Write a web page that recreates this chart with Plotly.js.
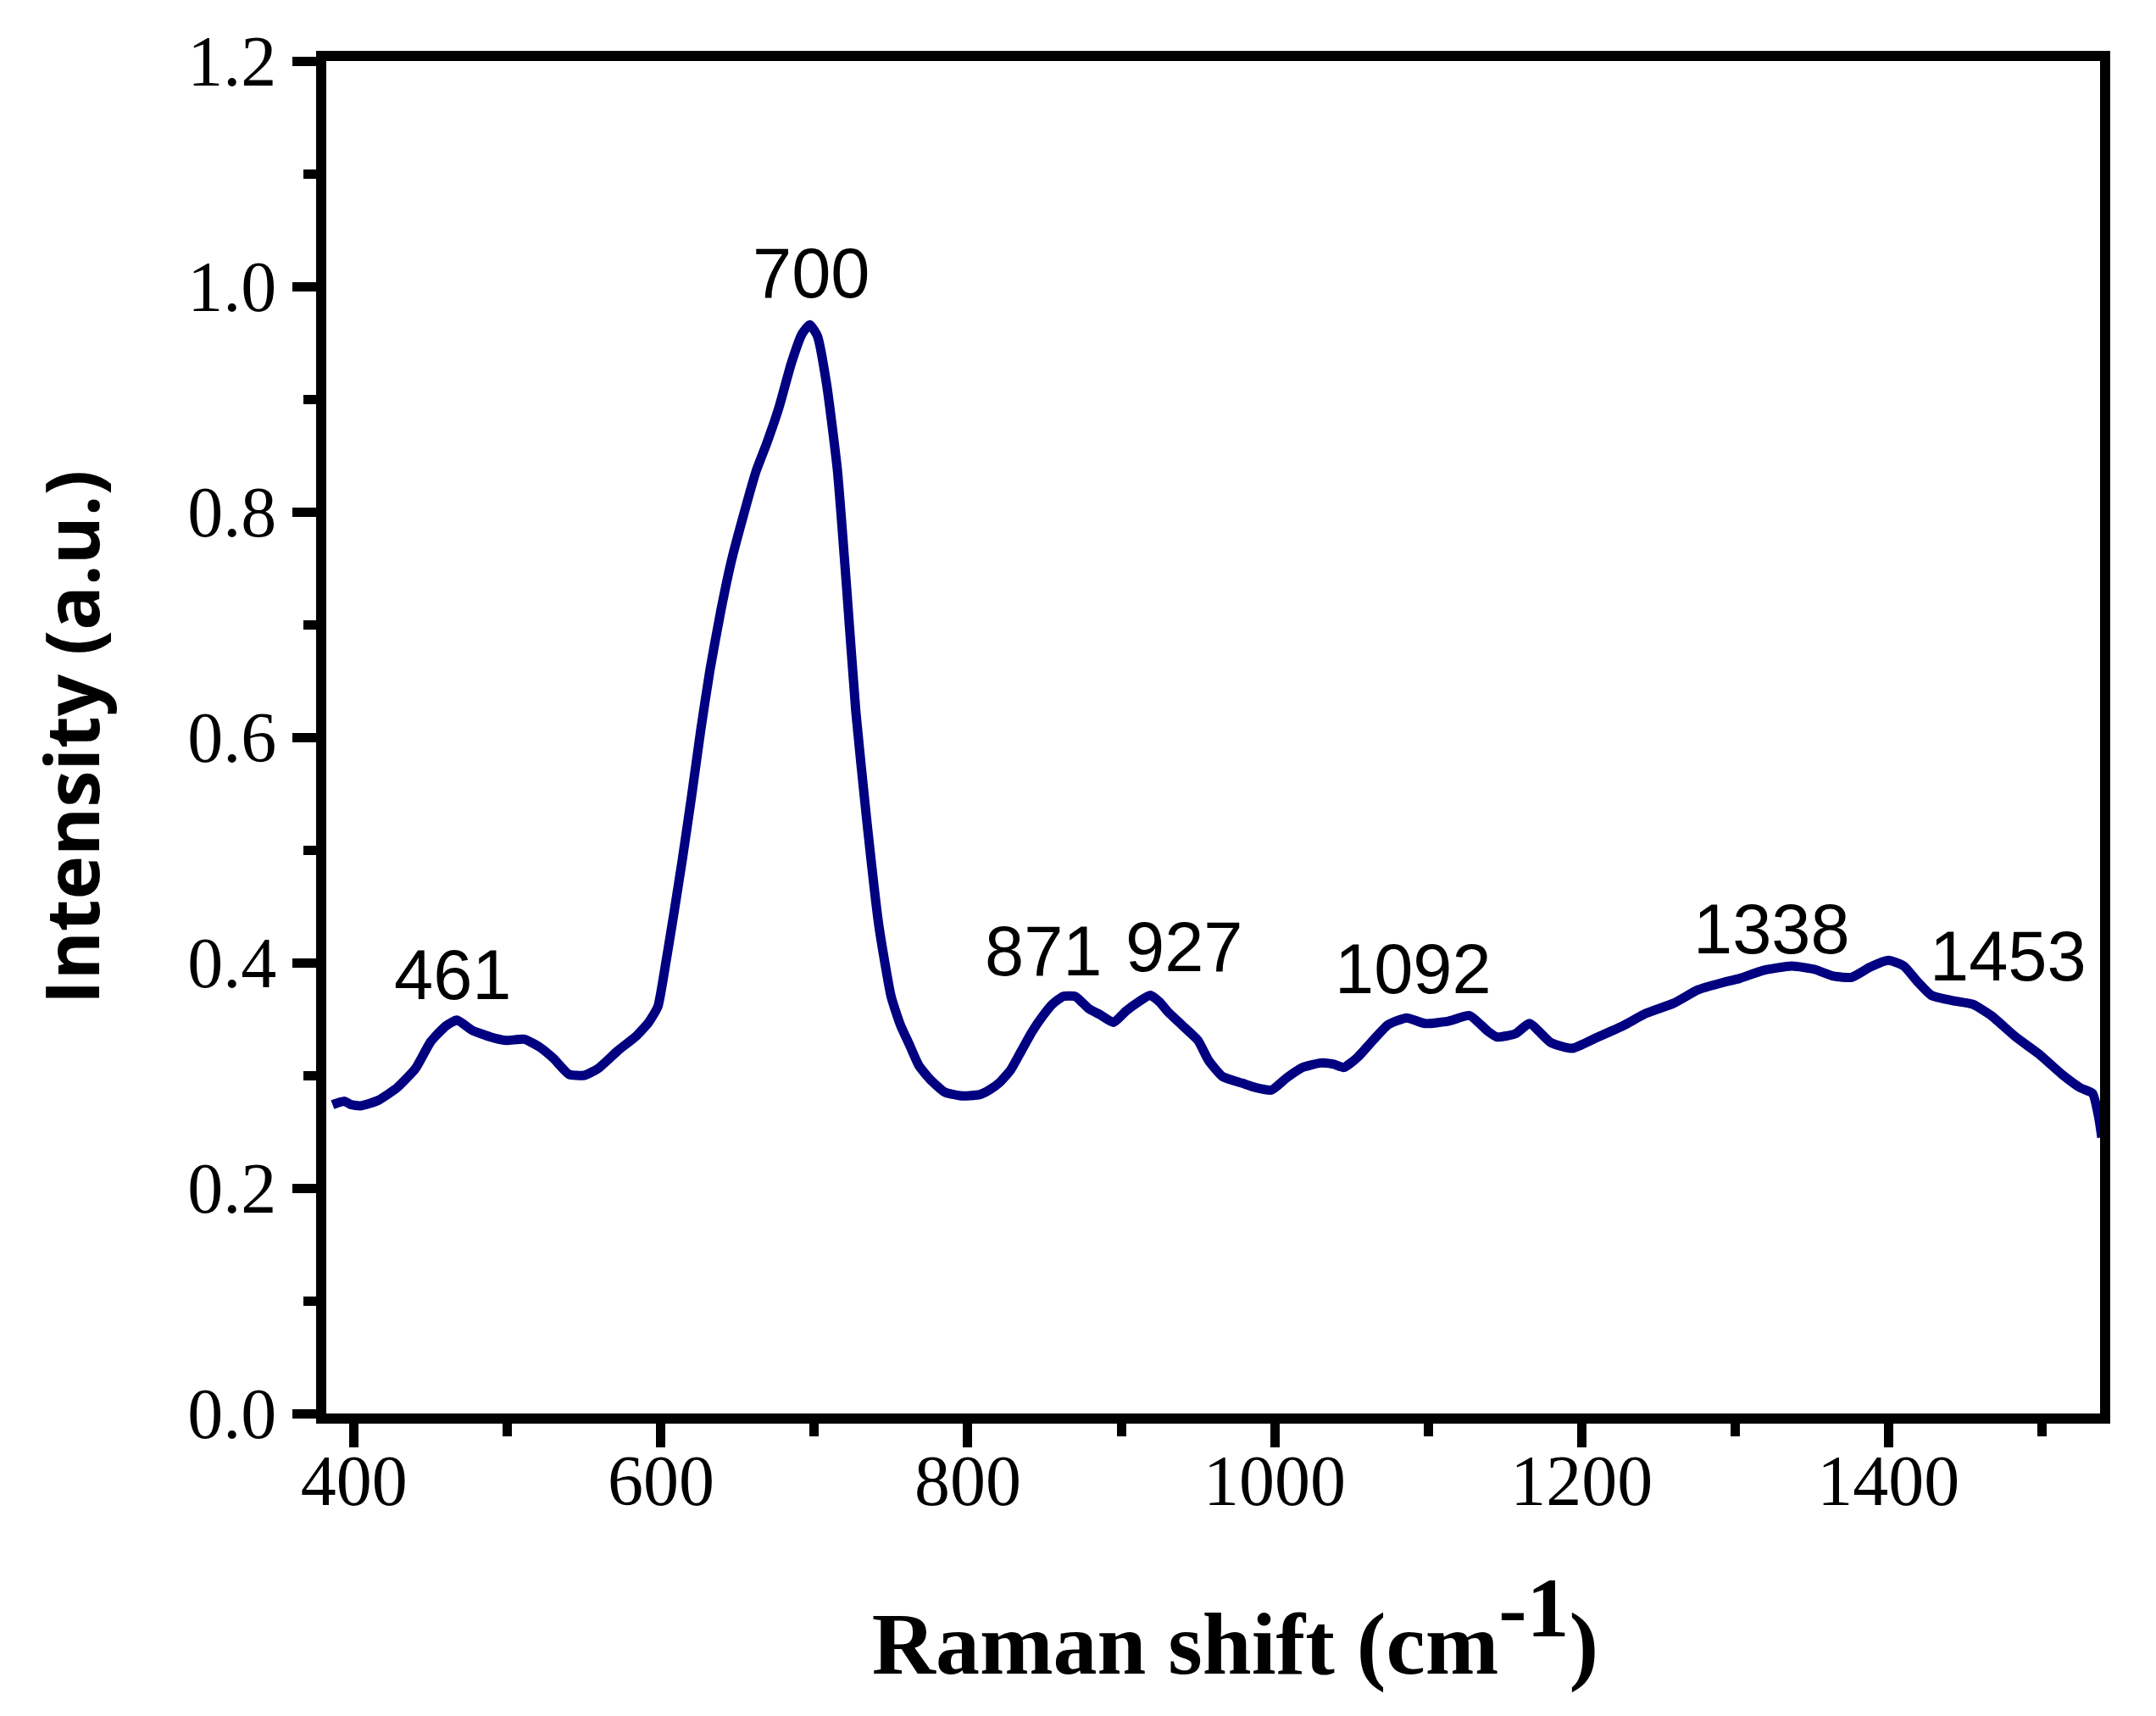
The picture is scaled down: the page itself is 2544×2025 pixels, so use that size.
<!DOCTYPE html>
<html>
<head>
<meta charset="utf-8">
<script src="https://cdn.plot.ly/plotly-3.0.1.min.js"></script>
<style>html,body{margin:0;padding:0;background:#fff;}#chart{width:2544px;height:2025px;}</style>
</head>
<body>
<div id="chart"></div>
<script>
// Raman shift (cm-1)
const shift = [386,388,394,398,404,410,416,428,440,450,460,467,477,489,499,511,521,530,540,550,559,572,584,592,598,602,608,614,620,626,632,639,646,654,662,669,677,685,692,697,702,708,715,721,727,734,742,750,756,762,768,775,785,795,801,808,814,821,828,835,842,849,855,862,870,879,886,895,903,911,919,925,930,940,950,957,966,979,988,998,1008,1018,1030,1038,1045,1054,1064,1074,1086,1098,1113,1127,1139,1145,1157,1166,1180,1194,1209,1227,1242,1260,1276,1291,1303,1318,1337,1352,1364,1376,1388,1400,1410,1419,1428,1443,1455,1467,1483,1498,1513,1525,1533,1537,1539];
// Intensity (a.u.)
const intensity = [0.274,0.275,0.277,0.274,0.273,0.275,0.278,0.289,0.306,0.330,0.344,0.349,0.340,0.334,0.331,0.332,0.325,0.315,0.301,0.300,0.306,0.322,0.335,0.347,0.361,0.390,0.440,0.492,0.548,0.607,0.660,0.712,0.757,0.798,0.836,0.861,0.893,0.932,0.958,0.966,0.956,0.913,0.837,0.733,0.623,0.528,0.433,0.370,0.345,0.327,0.309,0.297,0.285,0.282,0.282,0.283,0.287,0.294,0.305,0.322,0.339,0.353,0.363,0.370,0.370,0.359,0.354,0.347,0.357,0.365,0.371,0.365,0.357,0.344,0.331,0.313,0.299,0.293,0.289,0.287,0.298,0.307,0.311,0.310,0.307,0.316,0.331,0.345,0.351,0.346,0.348,0.353,0.339,0.334,0.337,0.346,0.329,0.324,0.333,0.344,0.355,0.364,0.376,0.382,0.386,0.393,0.397,0.394,0.388,0.387,0.396,0.402,0.397,0.383,0.371,0.366,0.363,0.353,0.334,0.319,0.301,0.289,0.284,0.263,0.245];

// Peak labels
const peakLabels = ["461","700","871","927","1092","1338","1453"];
const peakX = [464, 698, 849, 941, 1090, 1324, 1478];
const peakY = [0.389, 1.012, 0.410, 0.414, 0.394, 0.430, 0.406];

// Axis ticks
const xTicks = [400, 600, 800, 1000, 1200, 1400];
const yTicks = [0.0, 0.2, 0.4, 0.6, 0.8, 1.0, 1.2];

const trace = {
  x: shift, y: intensity, type: 'scatter', mode: 'lines',
  line: {color: '#000080', width: 11, shape: 'spline', smoothing: 0.5},
  hoverinfo: 'skip', showlegend: false
};

const annotations = peakLabels.map((t, i) => ({
  x: peakX[i], y: peakY[i], xref: 'x', yref: 'y', text: t, showarrow: false,
  xanchor: 'center', yanchor: 'middle',
  font: {family: 'Liberation Sans, Arial, sans-serif', size: 83, color: '#000'}
}));

const tickFont = {family: 'Liberation Serif, Times New Roman, serif', size: 84, color: '#000'};

const layout = {
  width: 2544, height: 2025,
  paper_bgcolor: '#fff', plot_bgcolor: '#fff',
  margin: {l: 385, r: 66, t: 72, b: 357, pad: 0},
  showlegend: false,
  xaxis: {
    range: [381.9, 1537.9], tickvals: xTicks, ticktext: xTicks.map(String),
    showgrid: false, zeroline: false, showline: true, mirror: true,
    linecolor: '#000', linewidth: 12,
    ticks: 'outside', ticklen: 28, tickwidth: 11, tickcolor: '#000',
    ticklabelstandoff: -33,
    minor: {dtick: 100, tick0: 0, ticks: 'outside', ticklen: 15, tickwidth: 11, tickcolor: '#000', showgrid: false},
    tickfont: tickFont,
    title: {
      text: '&nbsp;&nbsp;Raman shift (cm<sup><span style="font-size:100px">-1</span></sup>)',
      font: {family: 'Liberation Serif, Times New Roman, serif', size: 104, color: '#000', weight: 'bold'},
      standoff: 114
    }
  },
  yaxis: {
    range: [0, 1.2], tickvals: yTicks, ticktext: yTicks.map(v => v.toFixed(1)),
    showgrid: false, zeroline: false, showline: true, mirror: true,
    linecolor: '#000', linewidth: 12,
    ticks: 'outside', ticklen: 28, tickwidth: 11, tickcolor: '#000',
    ticklabelstandoff: 2,
    minor: {dtick: 0.1, tick0: 0, ticks: 'outside', ticklen: 15, tickwidth: 11, tickcolor: '#000', showgrid: false},
    tickfont: tickFont,
    title: {
      text: 'Intensity (a.u.)',
      font: {family: 'Open Sans, sans-serif', size: 87, color: '#000', weight: 'bold'},
      standoff: 80
    }
  },
  annotations: annotations
};

Plotly.newPlot('chart', [trace], layout, {staticPlot: true, displayModeBar: false});
</script>
</body>
</html>
